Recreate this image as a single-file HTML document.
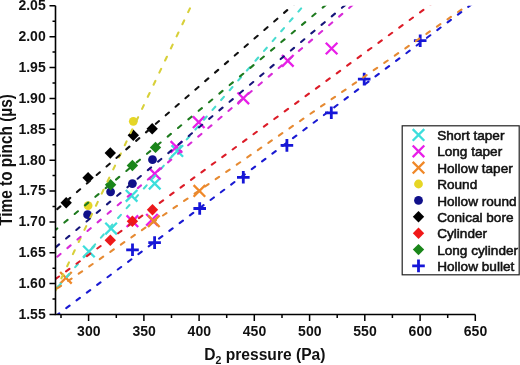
<!DOCTYPE html><html><head><meta charset="utf-8"><style>html,body{margin:0;padding:0;background:#fff;width:520px;height:365px;overflow:hidden}svg{display:block}text{font-family:"Liberation Sans",Arial,sans-serif;font-weight:bold;fill:#111}.lg{font-weight:normal;stroke:#111;stroke-width:0.55px}</style></head><body>
<svg width="520" height="365" viewBox="0 0 520 365">
<defs><clipPath id="pc"><rect x="55.5" y="5.8" width="419.8" height="308.7"/></clipPath></defs>
<path d="M83.1,245.7L94.7,257.3M83.1,257.3L94.7,245.7" stroke="#3cdedc" stroke-width="2.3" fill="none"/>
<path d="M105.3,222.8L116.9,234.4M105.3,234.4L116.9,222.8" stroke="#3cdedc" stroke-width="2.3" fill="none"/>
<path d="M125.8,190.0L137.4,201.6M125.8,201.6L137.4,190.0" stroke="#3cdedc" stroke-width="2.3" fill="none"/>
<path d="M148.9,177.8L160.5,189.4M148.9,189.4L160.5,177.8" stroke="#3cdedc" stroke-width="2.3" fill="none"/>
<path d="M171.5,145.2L183.1,156.8M171.5,156.8L183.1,145.2" stroke="#3cdedc" stroke-width="2.3" fill="none"/>
<path d="M126.6,215.4L138.2,227.0M126.6,227.0L138.2,215.4" stroke="#e81ee8" stroke-width="2.3" fill="none"/>
<path d="M146.2,214.0L157.8,225.6M146.2,225.6L157.8,214.0" stroke="#e81ee8" stroke-width="2.3" fill="none"/>
<path d="M148.9,167.9L160.5,179.5M148.9,179.5L160.5,167.9" stroke="#e81ee8" stroke-width="2.3" fill="none"/>
<path d="M170.6,141.1L182.2,152.7M170.6,152.7L182.2,141.1" stroke="#e81ee8" stroke-width="2.3" fill="none"/>
<path d="M192.9,116.4L204.5,128.0M192.9,128.0L204.5,116.4" stroke="#e81ee8" stroke-width="2.3" fill="none"/>
<path d="M237.5,92.5L249.1,104.1M237.5,104.1L249.1,92.5" stroke="#e81ee8" stroke-width="2.3" fill="none"/>
<path d="M282.0,55.0L293.6,66.6M282.0,66.6L293.6,55.0" stroke="#e81ee8" stroke-width="2.3" fill="none"/>
<path d="M325.8,42.7L337.4,54.3M325.8,54.3L337.4,42.7" stroke="#e81ee8" stroke-width="2.3" fill="none"/>
<path d="M60.1,272.0L71.7,283.6M60.1,283.6L71.7,272.0" stroke="#f08828" stroke-width="2.3" fill="none"/>
<path d="M148.0,215.4L159.6,227.0M148.0,227.0L159.6,215.4" stroke="#f08828" stroke-width="2.3" fill="none"/>
<path d="M193.6,185.1L205.2,196.7M193.6,196.7L205.2,185.1" stroke="#f08828" stroke-width="2.3" fill="none"/>
<circle cx="88.1" cy="205.6" r="4.4" fill="#e6d625"/>
<circle cx="133.3" cy="121.3" r="4.4" fill="#e6d625"/>
<circle cx="87.6" cy="214.7" r="4.4" fill="#10108a"/>
<circle cx="110.6" cy="191.8" r="4.4" fill="#10108a"/>
<circle cx="132.4" cy="183.6" r="4.4" fill="#10108a"/>
<circle cx="152.5" cy="159.7" r="4.4" fill="#10108a"/>
<path d="M66.2,197.1L71.9,202.8L66.2,208.5L60.5,202.8Z" fill="#000000"/>
<path d="M88.1,172.0L93.8,177.7L88.1,183.4L82.4,177.7Z" fill="#000000"/>
<path d="M110.3,147.3L116.0,153.0L110.3,158.7L104.6,153.0Z" fill="#000000"/>
<path d="M133.3,129.5L139.0,135.2L133.3,140.9L127.6,135.2Z" fill="#000000"/>
<path d="M152.2,123.0L157.9,128.7L152.2,134.4L146.5,128.7Z" fill="#000000"/>
<path d="M110.3,234.5L116.0,240.2L110.3,245.9L104.6,240.2Z" fill="#f01818"/>
<path d="M132.4,215.5L138.1,221.2L132.4,226.9L126.7,221.2Z" fill="#f01818"/>
<path d="M152.5,204.0L158.2,209.7L152.5,215.4L146.8,209.7Z" fill="#f01818"/>
<path d="M110.6,179.1L116.3,184.8L110.6,190.5L104.9,184.8Z" fill="#1a861a"/>
<path d="M132.4,159.8L138.1,165.5L132.4,171.2L126.7,165.5Z" fill="#1a861a"/>
<path d="M155.5,141.7L161.2,147.4L155.5,153.1L149.8,147.4Z" fill="#1a861a"/>
<path d="M126.2,249.8H138.8M132.5,243.5V256.1" stroke="#1616d8" stroke-width="2.8" fill="none"/>
<path d="M148.3,242.6H160.9M154.6,236.3V248.9" stroke="#1616d8" stroke-width="2.8" fill="none"/>
<path d="M193.4,208.5H206.0M199.7,202.2V214.8" stroke="#1616d8" stroke-width="2.8" fill="none"/>
<path d="M237.0,177.3H249.6M243.3,171.0V183.6" stroke="#1616d8" stroke-width="2.8" fill="none"/>
<path d="M280.6,145.4H293.2M286.9,139.1V151.7" stroke="#1616d8" stroke-width="2.8" fill="none"/>
<path d="M325.0,112.8H337.6M331.3,106.5V119.1" stroke="#1616d8" stroke-width="2.8" fill="none"/>
<path d="M357.9,79.1H370.5M364.2,72.8V85.4" stroke="#1616d8" stroke-width="2.8" fill="none"/>
<path d="M413.9,40.7H426.5M420.2,34.4V47.0" stroke="#1616d8" stroke-width="2.8" fill="none"/>
<g clip-path="url(#pc)" fill="none" stroke-width="2.1" stroke-linecap="round">
<line x1="-163.28" y1="750.13" x2="570.23" y2="-790.24" stroke="#d8d03a" stroke-dasharray="4.2 9.20"/>
<line x1="-386.59" y1="593.01" x2="887.42" y2="-509.01" stroke="#111111" stroke-dasharray="4.2 8.84"/>
<line x1="-293.92" y1="689.79" x2="814.55" y2="-579.41" stroke="#48dcd0" stroke-dasharray="4.2 8.85"/>
<line x1="-483.23" y1="678.14" x2="830.14" y2="-414.58" stroke="#1e7a1e" stroke-dasharray="4.2 9.24"/>
<line x1="-465.15" y1="682.99" x2="839.73" y2="-408.67" stroke="#16167a" stroke-dasharray="4.2 9.12"/>
<line x1="-335.14" y1="591.05" x2="955.30" y2="-508.41" stroke="#d82ad8" stroke-dasharray="4.2 9.02"/>
<line x1="-412.88" y1="621.73" x2="939.85" y2="-367.93" stroke="#dc1c28" stroke-dasharray="4.2 8.70"/>
<line x1="-395.45" y1="600.71" x2="979.30" y2="-347.59" stroke="#e68a32" stroke-dasharray="4.2 8.60"/>
<line x1="-397.57" y1="655.75" x2="942.68" y2="-348.77" stroke="#1a1ad2" stroke-dasharray="4.2 8.68"/>
</g>
<path d="M55.5,5.8V314.5H475.3" stroke="#000" stroke-width="1.6" fill="none"/>
<path d="M49.5,314.5H55.5M52.5,299.1H55.5M49.5,283.6H55.5M52.5,268.2H55.5M49.5,252.8H55.5M52.5,237.3H55.5M49.5,221.9H55.5M52.5,206.5H55.5M49.5,191.0H55.5M52.5,175.6H55.5M49.5,160.2H55.5M52.5,144.7H55.5M49.5,129.3H55.5M52.5,113.8H55.5M49.5,98.4H55.5M52.5,83.0H55.5M49.5,67.5H55.5M52.5,52.1H55.5M49.5,36.7H55.5M52.5,21.2H55.5M49.5,5.8H55.5M88.6,314.5V321.0M143.9,314.5V321.0M199.1,314.5V321.0M254.3,314.5V321.0M309.6,314.5V321.0M364.8,314.5V321.0M420.1,314.5V321.0M475.3,314.5V321.0M61.0,314.5V318.0M116.3,314.5V318.0M171.5,314.5V318.0M226.7,314.5V318.0M282.0,314.5V318.0M337.2,314.5V318.0M392.4,314.5V318.0M447.7,314.5V318.0" stroke="#000" stroke-width="1.5" fill="none"/>
<text x="45.7" y="318.8" font-size="14" text-anchor="end">1.55</text>
<text x="45.7" y="287.9" font-size="14" text-anchor="end">1.60</text>
<text x="45.7" y="257.1" font-size="14" text-anchor="end">1.65</text>
<text x="45.7" y="226.2" font-size="14" text-anchor="end">1.70</text>
<text x="45.7" y="195.3" font-size="14" text-anchor="end">1.75</text>
<text x="45.7" y="164.5" font-size="14" text-anchor="end">1.80</text>
<text x="45.7" y="133.6" font-size="14" text-anchor="end">1.85</text>
<text x="45.7" y="102.7" font-size="14" text-anchor="end">1.90</text>
<text x="45.7" y="71.8" font-size="14" text-anchor="end">1.95</text>
<text x="45.7" y="41.0" font-size="14" text-anchor="end">2.00</text>
<text x="45.7" y="10.1" font-size="14" text-anchor="end">2.05</text>
<text x="88.8" y="335.5" font-size="14" text-anchor="middle">300</text>
<text x="144.1" y="335.5" font-size="14" text-anchor="middle">350</text>
<text x="199.3" y="335.5" font-size="14" text-anchor="middle">400</text>
<text x="254.5" y="335.5" font-size="14" text-anchor="middle">450</text>
<text x="309.8" y="335.5" font-size="14" text-anchor="middle">500</text>
<text x="365.0" y="335.5" font-size="14" text-anchor="middle">550</text>
<text x="420.3" y="335.5" font-size="14" text-anchor="middle">600</text>
<text x="475.5" y="335.5" font-size="14" text-anchor="middle">650</text>
<text x="204.3" y="360" font-size="15.6">D<tspan font-size="10.5" dy="3.5">2</tspan><tspan dy="-3.5"> pressure (Pa)</tspan></text>
<text transform="translate(12.1,160) scale(1.18,1) rotate(-90)" font-size="15.4" text-anchor="middle">Time to pinch (µs)</text>
<rect x="402.2" y="125.8" width="117.00000000000006" height="149.0" fill="#fff" stroke="#222" stroke-width="1.2"/>
<path d="M412.7,129.1L424.3,140.7M412.7,140.7L424.3,129.1" stroke="#3cdedc" stroke-width="2.3" fill="none"/>
<text class="lg" x="437.2" y="140.00" font-size="13.6">Short taper</text>
<path d="M412.7,145.5L424.3,157.1M412.7,157.1L424.3,145.5" stroke="#e81ee8" stroke-width="2.3" fill="none"/>
<text class="lg" x="437.2" y="156.38" font-size="13.6">Long taper</text>
<path d="M412.7,161.9L424.3,173.5M412.7,173.5L424.3,161.9" stroke="#f08828" stroke-width="2.3" fill="none"/>
<text class="lg" x="437.2" y="172.76" font-size="13.6">Hollow taper</text>
<circle cx="418.5" cy="184.0" r="4.4" fill="#e6d625"/>
<text class="lg" x="437.2" y="189.14" font-size="13.6">Round</text>
<circle cx="418.5" cy="200.4" r="4.4" fill="#10108a"/>
<text class="lg" x="437.2" y="205.52" font-size="13.6">Hollow round</text>
<path d="M418.5,211.1L424.2,216.8L418.5,222.5L412.8,216.8Z" fill="#000000"/>
<text class="lg" x="437.2" y="221.90" font-size="13.6">Conical bore</text>
<path d="M418.5,227.5L424.2,233.2L418.5,238.9L412.8,233.2Z" fill="#f01818"/>
<text class="lg" x="437.2" y="238.28" font-size="13.6">Cylinder</text>
<path d="M418.5,243.9L424.2,249.6L418.5,255.3L412.8,249.6Z" fill="#1a861a"/>
<text class="lg" x="437.2" y="254.66" font-size="13.6">Long cylinder</text>
<path d="M412.2,265.9H424.8M418.5,259.6V272.2" stroke="#1616d8" stroke-width="2.8" fill="none"/>
<text class="lg" x="437.2" y="271.04" font-size="13.6">Hollow bullet</text>
</svg></body></html>
